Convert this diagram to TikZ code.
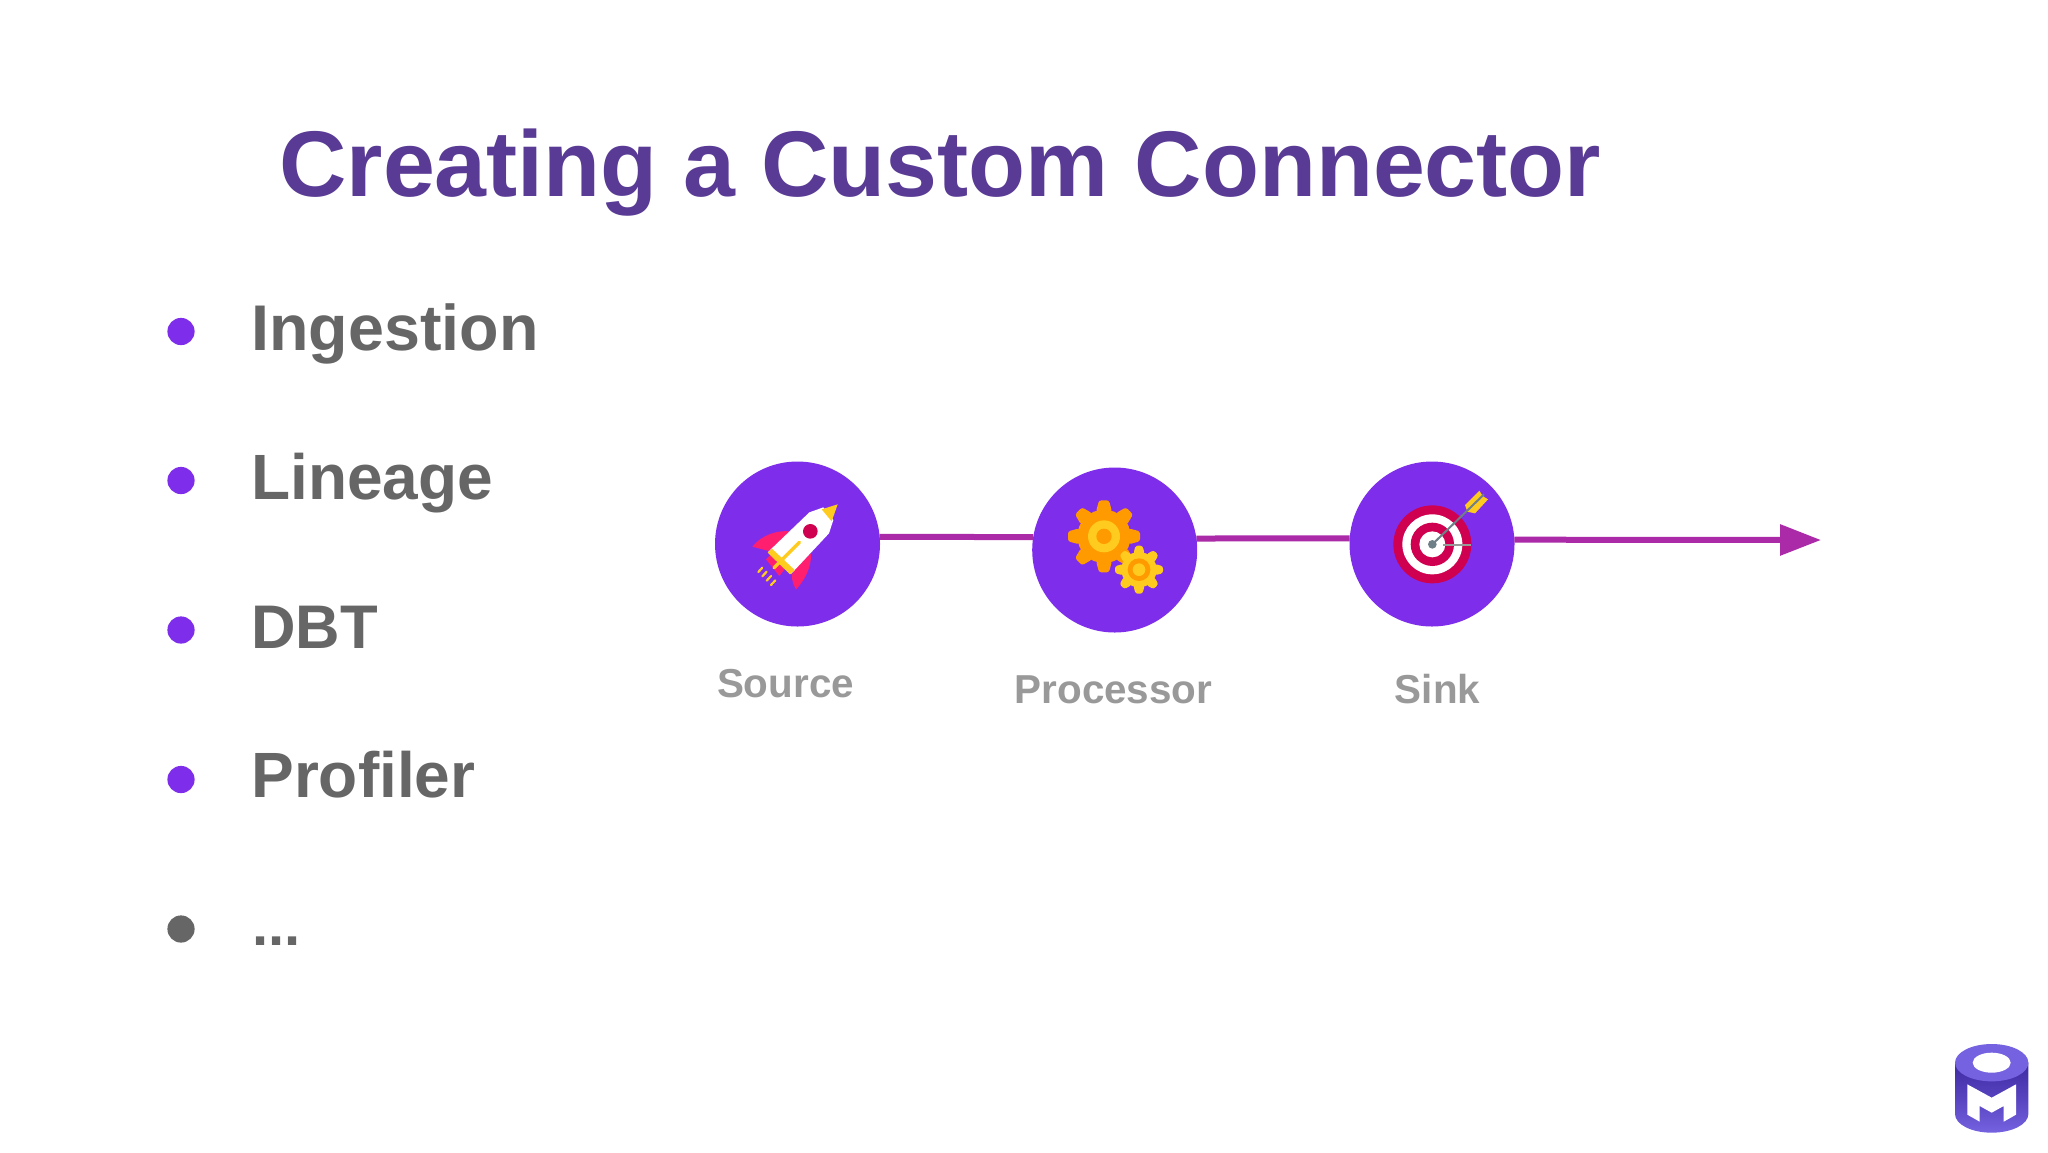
\documentclass[tikz,border=0pt]{standalone}
\usepackage{fontspec}
\setmainfont{Liberation Sans}[BoldFont={Liberation Sans Bold}]
\usetikzlibrary{arrows.meta}
\pgfdeclarelayer{bg}
\pgfsetlayers{bg,main}
\definecolor{titlec}{HTML}{593A94}
\definecolor{violet1}{HTML}{7E2EEA}
\definecolor{greyt}{HTML}{666666}
\definecolor{greyl}{HTML}{999999}
\definecolor{linec}{HTML}{AB2AA8}
\definecolor{rosea}{HTML}{FF1F6E}
\definecolor{crim}{HTML}{CF004F}
\definecolor{yell}{HTML}{FFCB1F}
\definecolor{orng}{HTML}{FF9A00}
\definecolor{steel}{HTML}{6E7F88}
\definecolor{logol}{HTML}{7562E0}
\definecolor{logod}{HTML}{3F2AA3}
\newcommand{\mygear}[6]{%
  \begin{scope}[shift={(#1,#2)}]
    \fill[#5] (0,0) circle[radius=#3];
    \foreach \a in {0,45,...,315}{
      \fill[#5,rotate=\a,rounded corners=1.2pt] (#3-6,-#6) -- (#4,-#6*0.62) -- (#4,#6*0.62) -- (#3-6,#6) -- cycle;
    }
  \end{scope}}
\tikzset{
  hub/.style={circle,fill=violet1,minimum size=82.5pt,inner sep=0pt,outer sep=0pt},
  bulletdot/.style={circle,fill=violet1,minimum size=13.6pt,inner sep=0pt,outer sep=0pt},
  itemtext/.style={anchor=base west,inner sep=0pt,text=greyt,font=\fontsize{32}{36}\selectfont\bfseries},
  steplabel/.style={anchor=base,inner sep=0pt,text=greyl,font=\fontsize{20.2}{24}\selectfont\bfseries},
  pipe/.style={draw=linec,line width=3pt}
}
\begin{document}
\begin{tikzpicture}[x=0.5pt,y=-0.5pt]
\useasboundingbox (0,0) rectangle (2048,1152);
\begin{pgfonlayer}{bg}
  \fill[white] (0,0) rectangle (2048,1152);
\end{pgfonlayer}

\node[anchor=base west,inner sep=0pt,text=titlec,font=\fontsize{46.65}{52}\selectfont\bfseries] (title) at (279,196) {Creating a Custom Connector};

\node[bulletdot] (b1) at (181,331.5) {};
\node[bulletdot] (b2) at (181,480.5) {};
\node[bulletdot] (b3) at (181,630) {};
\node[bulletdot] (b4) at (181,779.5) {};
\node[bulletdot,fill=greyt] (b5) at (181,929) {};
\node[itemtext,font=\fontsize{32.3}{36}\selectfont\bfseries] (t1) at (251,350) {Ingestion};
\node[itemtext] (t2) at (251,499) {Lineage};
\node[itemtext,font=\fontsize{30.8}{36}\selectfont\bfseries] (t3) at (251,648) {DBT};
\node[itemtext] (t4) at (251,797) {Profiler};
\node[itemtext,font=\fontsize{29}{36}\selectfont\bfseries] (t5) at (252,945) {...};

\node[hub] (source) at (797.5,544) {};
\node[hub] (processor) at (1114.7,550) {};
\node[hub] (sink) at (1432,544) {};
\coordinate (tip) at (1821,540);

\begin{pgfonlayer}{bg}
  \draw[pipe] (source.5) -- (processor.171.4);
  \draw[pipe] (processor.8.4) -- (sink.176);
\end{pgfonlayer}
\draw[pipe,-{Triangle[length=20.5pt,width=15pt,fill=linec]}] (sink.3.5) -- (tip);

\node[steplabel] (l1) at (785.5,697) {Source};
\node[steplabel] (l2) at (1113.5,703) {Processor};
\node[steplabel] (l3) at (1437.5,703) {Sink};

% rocket
\begin{scope}[shift={(730,470)},scale=1/3]
  \fill[rosea] (67,230) .. controls (95,195) and (140,180) .. (182,184) -- (125,245) .. controls (105,240) and (85,235) .. (67,230) -- cycle;
  \fill[rosea] (198,358) .. controls (185,335) and (183,320) .. (190,300) -- (243,250) .. controls (245,290) and (225,330) .. (198,358) -- cycle;
  \fill[rosea] (108,268) -- (132,245) -- (168,292) -- (148,318) -- cycle;
  \fill[white] (238,127) -- (280,112) -- (310,150) -- (297,190) -- (183,312) -- (115,245) -- cycle;
  \fill[yell] (323,103) -- (275,118) -- (305,154) -- cycle;
  \fill[yell] (113,248) -- (126,236) -- (194,300) -- (180,313) -- cycle;
  \draw[yell,line width=1.7pt,line cap=round] (208,217) -- (132,293);
  \fill[crim] (241,184) circle[radius=22];
  \draw[yell,line width=1.1pt,line cap=round] (85,306) -- (97,293);
  \draw[yell,line width=1.1pt,line cap=round] (97,319) -- (110,305);
  \draw[yell,line width=1.1pt,line cap=round] (110,332) -- (123,318);
  \draw[yell,line width=1.1pt,line cap=round] (123,345) -- (136,331);
\end{scope}

% gears
\begin{scope}[shift={(1040,475)},scale=1/3]
  \mygear{192}{184}{80}{108}{orng}{24}
  \fill[yell] (192,184) circle[radius=48];
  \fill[orng] (192,184) circle[radius=23];
  \mygear{297}{284}{53}{72}{yell}{17}
  \fill[orng] (297,284) circle[radius=34];
  \fill[yell] (297,284) circle[radius=19];
\end{scope}

% target
\begin{scope}[shift={(1360,470)},scale=1/3]
  \fill[crim] (217,223) circle[radius=117];
  \fill[white] (217,223) circle[radius=90];
  \fill[crim] (217,223) circle[radius=65];
  \fill[white] (217,223) circle[radius=39];
  \draw[greyl,line width=0.9pt] (250,224) -- (333,224);
  \fill[yell] (315,105) -- (358,62) -- (368,78) -- (384,88) -- (345,130) -- (322,125) -- cycle;
  \draw[steel,line width=1pt] (217,223) -- (372,73);
  \fill[steel] (217,223) circle[radius=13];
\end{scope}

% logo
\begin{scope}[shift={(1930,1030)},scale=1/3]
  \shade[top color=logod,bottom color=logol,middle color=logol!45!logod]
    (75,98) -- (75,252) .. controls (75,283) and (124,308) .. (185,308)
    .. controls (246,308) and (295,283) .. (295,252) -- (295,98) -- cycle;
  \fill[logol] (185,98) ellipse[x radius=110,y radius=56];
  \fill[white] (185,98) ellipse[x radius=57,y radius=30];
  \fill[white] (112,163) -- (185,203) -- (258,163) -- (258,254) -- (221,275) -- (221,228) -- (185,248) -- (149,228) -- (149,275) -- (112,254) -- cycle;
\end{scope}
\end{tikzpicture}
\end{document}
